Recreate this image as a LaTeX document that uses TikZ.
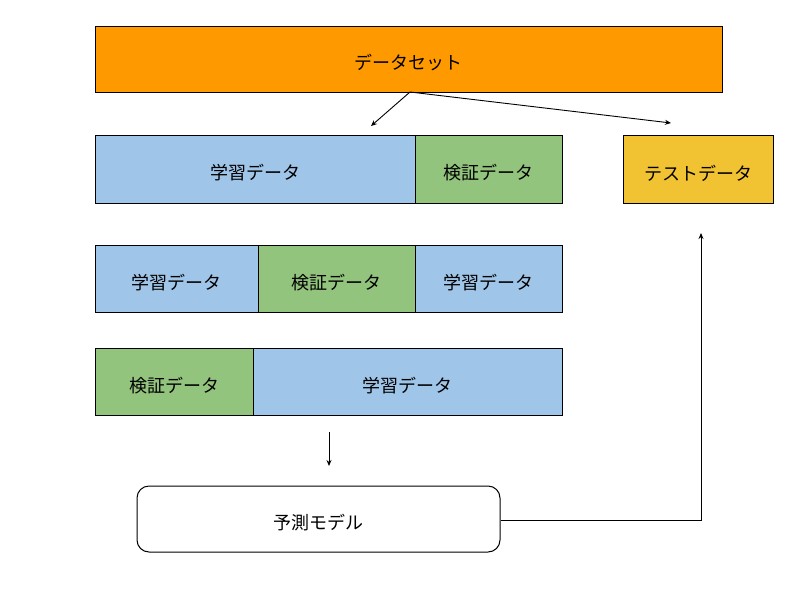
\documentclass[tikz,border=0pt]{standalone}
\usepackage{fontspec}
\setmainfont{Noto Sans CJK JP}
\usetikzlibrary{arrows.meta}
\definecolor{cOrange}{HTML}{FF9900}
\definecolor{cBlue}{HTML}{9FC5E8}
\definecolor{cGreen}{HTML}{93C47D}
\definecolor{cYellow}{HTML}{F1C232}
\newcommand\boxtxt[1]{\raisebox{-4pt}[\height][\depth]{#1}}
\tikzset{
  box/.style={draw=black, line width=1pt, inner sep=0pt, font=\fontsize{18}{21}\selectfont},
  conn/.style={draw=black, line width=0.9pt, -{Stealth[length=6pt,width=5pt]}},
}
\begin{document}
\begin{tikzpicture}[x=1pt,y=-1pt]
\useasboundingbox (0,0) rectangle (800,600);
\path[fill=white] (0,0) rectangle (800,600);
% dataset
\node[box, fill=cOrange, minimum width=627pt, minimum height=66pt] (ds) at (408.5,59) {\boxtxt{データセット}};
% row 1
\node[box, fill=cBlue, minimum width=320pt, minimum height=68pt] (r1a) at (255,169) {\boxtxt{学習データ}};
\node[box, fill=cGreen, minimum width=147pt, minimum height=68pt] (r1b) at (488.5,169) {\boxtxt{検証データ}};
\node[box, fill=cYellow, minimum width=150pt, minimum height=68pt] (test) at (698,169) {\boxtxt{テストデータ}};
% row 2
\node[box, fill=cBlue, minimum width=163pt, minimum height=67pt] (r2a) at (176.5,278.5) {\boxtxt{学習データ}};
\node[box, fill=cGreen, minimum width=157pt, minimum height=67pt] (r2b) at (336.5,278.5) {\boxtxt{検証データ}};
\node[box, fill=cBlue, minimum width=147pt, minimum height=67pt] (r2c) at (488.5,278.5) {\boxtxt{学習データ}};
% row 3
\node[box, fill=cGreen, minimum width=158pt, minimum height=67pt] (r3a) at (174,381.5) {\boxtxt{検証データ}};
\node[box, fill=cBlue, minimum width=309pt, minimum height=67pt] (r3b) at (407.5,381.5) {\boxtxt{学習データ}};
% model
\node[box, fill=white, rounded corners=12pt, minimum width=363pt, minimum height=66pt] (model) at (318.5,519) {\boxtxt{予測モデル}};
% connectors
\coordinate (dsout) at (410,92);
\coordinate (e1) at (371,126);
\coordinate (e2) at (671,123);
\coordinate (m1) at (329,432);
\coordinate (m2) at (329,466);
\coordinate (corner) at (701,520);
\coordinate (up) at (701,233);
\draw[conn] (dsout) -- (e1);
\draw[conn] (dsout) -- (e2);
\draw[conn] (m1) -- (m2);
\draw[conn] (model.east |- corner) -- (corner) -- (up);
\end{tikzpicture}
\end{document}
